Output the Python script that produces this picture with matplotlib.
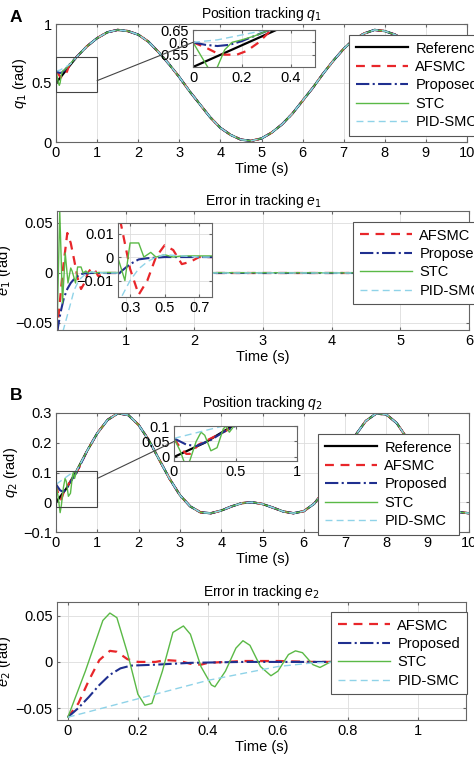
import matplotlib
matplotlib.use("Agg")
import matplotlib.pyplot as plt
from matplotlib.patches import Rectangle, ConnectionPatch

W, H = 474, 761
plt.rcParams['font.family'] = ['Liberation Sans', 'DejaVu Sans']
plt.rcParams['font.size'] = 10.5
plt.rcParams['mathtext.fontset'] = 'custom'
plt.rcParams['mathtext.it'] = 'Liberation Sans:italic'

labels = ['AFSMC', 'Proposed', 'STC', 'PID-SMC']
colors = {'Reference': 'black', 'AFSMC': '#e8262a', 'Proposed': '#1f2f8f', 'STC': '#5ab946', 'PID-SMC': '#8fd3e8'}
styles = {'Reference': dict(ls='-', lw=1.6), 'AFSMC': dict(ls=(0, (4, 3)), lw=1.6),
          'Proposed': dict(ls='-.', lw=1.5), 'STC': dict(ls='-', lw=1.0), 'PID-SMC': dict(ls=(0, (5, 3)), lw=1.0)}

# ---- data ----
t_ref = [i * 0.25 for i in range(41)]
q1_ref = [0.50, 0.61, 0.72, 0.81, 0.88, 0.93, 0.95, 0.94, 0.91, 0.85, 0.76, 0.66, 0.55, 0.43, 0.32, 0.21,
          0.12, 0.06, 0.02, 0.01, 0.03, 0.08, 0.15, 0.24, 0.35, 0.46, 0.58, 0.69, 0.79, 0.87, 0.92, 0.95,
          0.94, 0.91, 0.86, 0.77, 0.67, 0.56, 0.44, 0.33, 0.22]
q2_ref = [0.0, 0.046, 0.106, 0.172, 0.232, 0.277, 0.299, 0.293, 0.260, 0.208, 0.143, 0.079, 0.024, -0.014,
          -0.034, -0.037, -0.028, -0.014, -0.003, 0.0, -0.006, -0.018, -0.031, -0.037, -0.030, -0.005, 0.039,
          0.098, 0.163, 0.225, 0.273, 0.298, 0.295, 0.266, 0.215, 0.152, 0.087, 0.031, -0.010, -0.033, -0.037]

q1_t = {'AFSMC': [0, 0.05, 0.1, 0.13, 0.18, 0.22, 0.27, 0.32],
        'Proposed': [0, 0.05, 0.1, 0.15, 0.2, 0.25, 0.3, 0.35],
        'STC': [0, 0.03, 0.06, 0.08, 0.1, 0.13, 0.16, 0.2, 0.25, 0.3, 0.35],
        'PID-SMC': [0, 0.1, 0.2, 0.3, 0.35]}
q1_v = {'AFSMC': [0.6, 0.58, 0.555, 0.55, 0.55, 0.565, 0.6, 0.65],
        'Proposed': [0.6, 0.59, 0.585, 0.59, 0.605, 0.625, 0.645, 0.665],
        'STC': [0.6, 0.55, 0.5, 0.48, 0.5, 0.57, 0.6, 0.61, 0.625, 0.645, 0.665],
        'PID-SMC': [0.6, 0.61, 0.63, 0.65, 0.66]}
q2_t = {'AFSMC': [0, 0.05, 0.1, 0.13, 0.2, 0.3, 0.4, 0.5],
        'Proposed': [0, 0.1, 0.18, 0.3, 0.4, 0.5],
        'STC': [0, 0.05, 0.1, 0.13, 0.18, 0.22, 0.25, 0.3, 0.35, 0.4, 0.42, 0.45, 0.5],
        'PID-SMC': [0, 0.2, 0.4, 0.5]}
q2_v = {'AFSMC': [0.06, 0.03, 0.01, 0.01, 0.04, 0.06, 0.08, 0.1],
        'Proposed': [0.06, 0.04, 0.035, 0.055, 0.08, 0.1],
        'STC': [0.06, 0.02, -0.035, -0.01, 0.05, 0.08, 0.07, 0.02, 0.03, 0.09, 0.1, 0.08, 0.106],
        'PID-SMC': [0.06, 0.08, 0.1, 0.106]}

e1_t = {'AFSMC': [0, 0.08, 0.15, 0.2, 0.25, 0.3, 0.35, 0.4, 0.45, 0.5, 0.55, 0.6, 0.65, 0.7, 6],
        'Proposed': [0, 0.05, 0.1, 0.15, 0.2, 0.25, 0.3, 0.35, 0.4, 0.5, 6],
        'STC': [0, 0.04, 0.08, 0.12, 0.16, 0.2, 0.22, 0.27, 0.3, 0.35, 0.38, 0.42, 0.45, 0.5, 0.55, 0.6, 6],
        'PID-SMC': [0, 0.1, 0.2, 0.25, 0.3, 0.35, 0.4, 0.45, 0.5, 0.6, 0.7, 6]}
e1_v = {'AFSMC': [-0.06, 0.0, 0.04, 0.03, 0.013, -0.005, -0.016, -0.01, 0.0, 0.005, 0.003, -0.003, -0.002, 0.0, 0.0],
        'Proposed': [-0.06, -0.04, -0.025, -0.016, -0.01, -0.006, -0.003, -0.001, -0.0005, 0.0, 0.0],
        'STC': [-0.06, 0.062, -0.03, 0.02, -0.01, 0.005, 0.002, -0.01, 0.006, 0.006, 0.0, 0.002, 0.0, 0.001, 0.0, 0.0005, 0.0],
        'PID-SMC': [-0.08, -0.055, -0.03, -0.017, -0.01, -0.005, -0.002, 0.0, 0.001, 0.0005, 0.0, 0.0]}

e2_t = {'AFSMC': [0, 0.03, 0.06, 0.09, 0.12, 0.14, 0.17, 0.2, 0.25, 0.28, 0.32, 0.35, 0.38, 0.4, 0.45, 0.5, 0.6, 0.7, 1.15],
        'Proposed': [0, 0.03, 0.06, 0.09, 0.12, 0.15, 0.18, 0.25, 0.35, 0.5, 1.15],
        'STC': [0, 0.05, 0.1, 0.12, 0.14, 0.17, 0.2, 0.22, 0.24, 0.27, 0.3, 0.33, 0.35, 0.38, 0.41, 0.42, 0.45,
                0.48, 0.5, 0.52, 0.55, 0.58, 0.6, 0.63, 0.65, 0.67, 0.7, 0.72, 0.75, 0.8, 1.15],
        'PID-SMC': [0, 0.2, 0.4, 0.6, 0.7, 0.8, 1.15]}
e2_v = {'AFSMC': [-0.06, -0.045, -0.02, 0.002, 0.012, 0.011, 0.003, 0.0, 0.0, 0.002, 0.001, -0.002, -0.003, -0.001, 0.0, 0.001, 0.001, 0.0, 0.0],
        'Proposed': [-0.06, -0.05, -0.038, -0.025, -0.014, -0.007, -0.004, -0.003, -0.001, 0.0, 0.0],
        'STC': [-0.06, -0.01, 0.045, 0.053, 0.048, 0.01, -0.035, -0.047, -0.045, -0.01, 0.032, 0.039, 0.03, -0.005,
                -0.025, -0.027, -0.01, 0.015, 0.023, 0.018, -0.005, -0.015, -0.01, 0.008, 0.012, 0.01, -0.003,
                -0.006, 0.0, 0.001, 0.0],
        'PID-SMC': [-0.06, -0.04, -0.02, -0.005, -0.001, 0.0, 0.0]}

fig = plt.figure(figsize=(W / 100, H / 100), dpi=100)


def box(x0, y0, x1, y1):
    return fig.add_axes([x0 / W, 1 - y1 / H, (x1 - x0) / W, (y1 - y0) / H])


def style(ax, grid=True):
    for s in ax.spines.values():
        s.set_color('#666666')
        s.set_linewidth(0.8)
    ax.tick_params(direction='in', length=2.5, color='#666666', pad=3, top=True, right=True)
    if grid:
        ax.grid(True, color='#dddddd', lw=0.6)
        ax.set_axisbelow(True)


def full_series(tt, vv, t_r, r, start):
    T = list(tt) + [t for t in t_r if t > start]
    V = list(vv) + [v for t, v in zip(t_r, r) if t > start]
    return T, V


def draw_q(ax, qt, qv, ref):
    ax.plot(t_ref, ref, color='black', label='Reference', **styles['Reference'])
    for n in labels:
        T, V = full_series(qt[n], qv[n], t_ref, ref, qt[n][-1])
        ax.plot(T, V, color=colors[n], label=n, **styles[n])


def draw_e(ax, et, ev):
    for n in labels:
        ax.plot(et[n], ev[n], color=colors[n], label=n, **styles[n])


def legend(ax, x0, y0):
    lg = ax.legend(loc='upper left', bbox_to_anchor=(x0 / W, 1 - y0 / H),
                   bbox_transform=fig.transFigure, fancybox=False, edgecolor='#555555',
                   handlelength=3.6, labelspacing=0.3, borderpad=0.45, handletextpad=0.5,
                   borderaxespad=0, framealpha=1)
    lg.get_frame().set_linewidth(0.8)
    return lg


# ---- Panel A: q1 ----
ax1 = box(56, 24, 467, 142)
style(ax1)
draw_q(ax1, q1_t, q1_v, q1_ref)
ax1.set_xlim(0, 10); ax1.set_ylim(0, 1)
ax1.set_xticks(range(11)); ax1.set_yticks([0, 0.5, 1]); ax1.set_yticklabels(['0', '0.5', '1'])
ax1.set_xlabel('Time (s)', labelpad=1)
ax1.set_ylabel('$q_1$ (rad)', labelpad=2)
ax1.set_title('Position tracking $q_1$', pad=4, fontsize=10)
ax1.add_patch(Rectangle((0, 0.42), 1, 0.3, fill=False, ec='#444444', lw=0.8, zorder=5))
legend(ax1, 349, 35)
in1 = box(193, 30, 315, 67)
style(in1)
draw_q(in1, q1_t, q1_v, q1_ref)
in1.set_xlim(0, 0.5); in1.set_ylim(0.5, 0.65)
in1.set_xticks([0, 0.2, 0.4]); in1.set_xticklabels(['0', '0.2', '0.4'])
in1.set_yticks([0.55, 0.6, 0.65]); in1.set_yticklabels(['0.55', '0.6', '0.65'])
fig.add_artist(ConnectionPatch((1, 0.52), (0, 0.6), 'data', 'data', axesA=ax1, axesB=in1, color='#444444', lw=0.8))
fig.text(10 / W, 1 - 22 / H, 'A', fontsize=12.5, fontweight='bold', va='baseline')

# ---- Panel e1 ----
ax2 = box(57, 211, 469, 330)
style(ax2)
draw_e(ax2, e1_t, e1_v)
ax2.set_xlim(0, 6); ax2.set_ylim(-0.057, 0.062)
ax2.set_xticks([1, 2, 3, 4, 5, 6]); ax2.set_yticks([-0.05, 0, 0.05]); ax2.set_yticklabels(['\u22120.05', '0', '0.05'])
ax2.set_xlabel('Time (s)', labelpad=1)
ax2.set_ylabel('$e_1$ (rad)', labelpad=2)
ax2.set_title('Error in tracking $e_1$', pad=4, fontsize=10)
legend(ax2, 353, 222)
in2 = box(118, 223, 212, 297)
style(in2)
draw_e(in2, e1_t, e1_v)
in2.set_xlim(0.23, 0.775); in2.set_ylim(-0.017, 0.0145)
in2.set_xticks([0.3, 0.5, 0.7]); in2.set_yticks([-0.01, 0, 0.01]); in2.set_yticklabels(['\u22120.01', '0', '0.01'])

# ---- Panel B: q2 ----
ax3 = box(56, 413, 469, 532)
style(ax3)
draw_q(ax3, q2_t, q2_v, q2_ref)
ax3.set_xlim(0, 10); ax3.set_ylim(-0.1, 0.3)
ax3.set_xticks(range(11)); ax3.set_yticks([-0.1, 0, 0.1, 0.2, 0.3])
ax3.set_yticklabels(['\u22120.1', '0', '0.1', '0.2', '0.3'])
ax3.set_xlabel('Time (s)', labelpad=1)
ax3.set_ylabel('$q_2$ (rad)', labelpad=2)
ax3.set_title('Position tracking $q_2$', pad=4, fontsize=10)
ax3.add_patch(Rectangle((0, -0.015), 1, 0.12, fill=False, ec='#444444', lw=0.8, zorder=5))
legend(ax3, 318, 434)
in3 = box(174, 426, 297, 461)
style(in3)
draw_q(in3, q2_t, q2_v, q2_ref)
in3.set_xlim(0, 1); in3.set_ylim(-0.013, 0.1)
in3.set_xticks([0, 0.5, 1]); in3.set_xticklabels(['0', '0.5', '1'])
in3.set_yticks([0, 0.05, 0.1]); in3.set_yticklabels(['0', '0.05', '0.1'])
fig.add_artist(ConnectionPatch((1, 0.08), (0, 0.05), 'data', 'data', axesA=ax3, axesB=in3, color='#444444', lw=0.8))
fig.text(10 / W, 1 - 400 / H, 'B', fontsize=12.5, fontweight='bold', va='baseline')

# ---- Panel e2 ----
ax4 = box(57, 602, 466, 720)
style(ax4)
draw_e(ax4, e2_t, e2_v)
ax4.set_xlim(-0.031, 1.137); ax4.set_ylim(-0.063, 0.065)
ax4.set_xticks([0, 0.2, 0.4, 0.6, 0.8, 1]); ax4.set_xticklabels(['0', '0.2', '0.4', '0.6', '0.8', '1'])
ax4.set_yticks([-0.05, 0, 0.05]); ax4.set_yticklabels(['\u22120.05', '0', '0.05'])
ax4.set_xlabel('Time (s)', labelpad=1)
ax4.set_ylabel('$e_2$ (rad)', labelpad=2)
ax4.set_title('Error in tracking $e_2$', pad=4, fontsize=10)
legend(ax4, 331, 612)

fig.savefig('out.png', dpi=100)
